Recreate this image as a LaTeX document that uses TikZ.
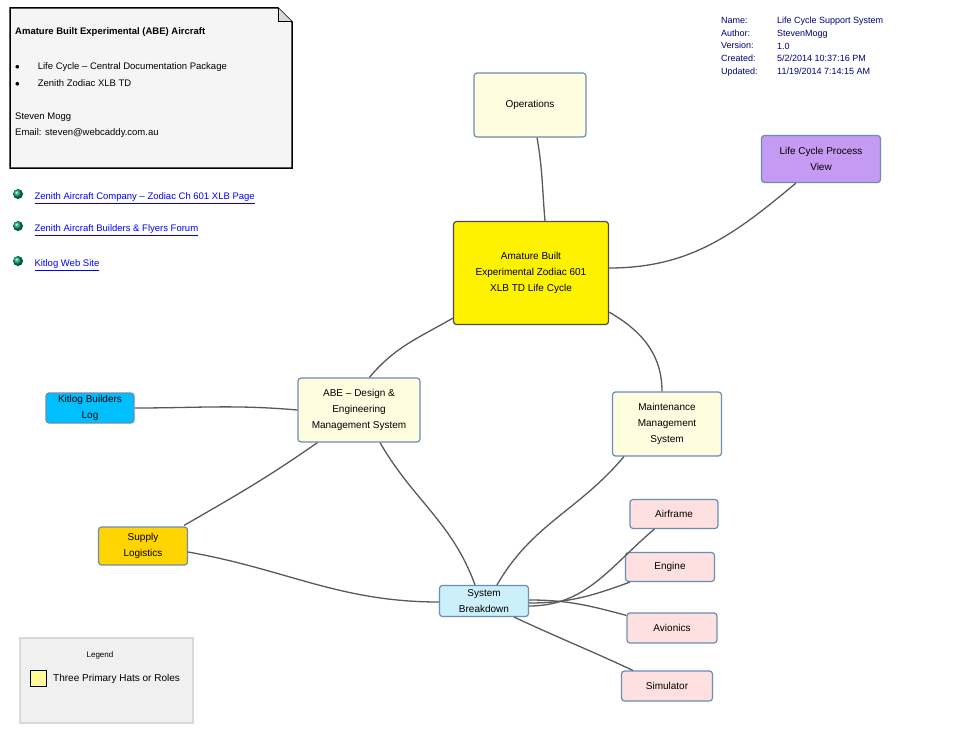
\documentclass[tikz,border=0pt]{standalone}
\usepackage{fontspec}
\setmainfont{Liberation Sans}
\definecolor{bord}{HTML}{6A8CB5}
\definecolor{lcp}{HTML}{C49AF2}
\definecolor{kitc}{HTML}{00BFFF}
\definecolor{supc}{HTML}{FFD400}
\begin{document}
\begin{tikzpicture}[x=1pt,y=-1pt,font=\fontsize{10}{16}\selectfont,
 box/.style={draw=bord,line width=1.2pt,rounded corners=3pt,align=center,inner sep=2pt},
 edge/.style={draw=black!65,line width=1.3pt},
 notet/.style={anchor=west,inner sep=0pt,font=\fontsize{9.5}{12}\selectfont},
 link/.style={text=blue,anchor=west,font=\fontsize{9.5}{10}\selectfont}]
\useasboundingbox (0,0) rectangle (966,749);
% note
\draw[line width=1.5pt,fill=gray!8] (10,8) -- (278,8) -- (292,22) -- (292,168) -- (10,168) -- cycle;
\draw[line width=1pt,fill=gray!30] (278,8) -- (278,22) -- (292,22);
\node[notet] (n1) at (15,32) {\textbf{Amature Built Experimental (ABE) Aircraft}};
\node[notet] (n2) at (15,67) {$\bullet$\hspace{18pt}Life Cycle -- Central Documentation Package};
\node[notet] (n3) at (15,83) {$\bullet$\hspace{18pt}Zenith Zodiac XLB TD};
\node[notet] (n4) at (15,117) {Steven Mogg};
\node[notet] (n5) at (15,133) {Email: steven@webcaddy.com.au};
% links
\foreach \y/\t/\n in {198/{Zenith Aircraft Company -- Zodiac Ch 601 XLB Page}/l1,230/{Zenith Aircraft Builders \& Flyers Forum}/l2,265/{Kitlog Web Site}/l3}{
 \shade[ball color=green!60!blue] (18,\y-4) circle (5);
 \node[link] (\n) at (31,\y) {\underline{\t}};}
% meta
\node[anchor=north west,align=left,inner sep=0pt,text=blue!50!black,font=\fontsize{9}{12.7}\selectfont] (meta) at (721,17)
 {Name:\\Author:\\Version:\\Created:\\Updated:};
\node[anchor=north west,align=left,inner sep=0pt,text=blue!50!black,font=\fontsize{9}{12.7}\selectfont] (meta2) at (777,17)
 {Life Cycle Support System\\StevenMogg\\1.0\\5/2/2014 10:37:16 PM\\11/19/2014 7:14:15 AM};
% nodes
\node[box,fill=yellow!12,minimum width=112pt,minimum height=64pt] (ops) at (530,105) {Operations};
\node[box,fill=lcp,minimum width=119pt,minimum height=47pt] (lcpv) at (821,159) {Life Cycle Process\\View};
\node[box,draw=black!70,fill=yellow,minimum width=155pt,minimum height=103pt] (cen) at (531,273) {Amature Built\\Experimental Zodiac 601\\XLB TD Life Cycle};
\node[box,fill=yellow!12,minimum width=122pt,minimum height=64pt] (abe) at (359,410) {ABE -- Design \&\\Engineering\\Management System};
\node[box,fill=yellow!12,minimum width=109pt,minimum height=64pt] (mms) at (667,424) {Maintenance\\Management\\System};
\node[box,fill=kitc,minimum width=88pt,minimum height=30pt,inner sep=0pt] (kit) at (90,408) {Kitlog Builders\\Log};
\node[box,fill=supc,minimum width=89pt,minimum height=38pt] (sup) at (143,546) {Supply\\Logistics};
\node[box,fill=cyan!20,minimum width=89pt,minimum height=31pt,inner sep=0pt] (sb) at (484,601) {System\\Breakdown};
\node[box,fill=red!12,minimum width=88pt,minimum height=29pt] (air) at (674,514) {Airframe};
\node[box,fill=red!12,minimum width=89pt,minimum height=29pt] (eng) at (670,567) {Engine};
\node[box,fill=red!12,minimum width=90pt,minimum height=30pt] (avi) at (672,628) {Avionics};
\node[box,fill=red!12,minimum width=91pt,minimum height=30pt] (sim) at (667,686) {Simulator};
% legend
\draw[line width=1.5pt,draw=black!15,fill=gray!12] (20,638) rectangle (193,723);
\node[font=\fontsize{8}{9}\selectfont] (legt) at (100,655) {Legend};
\draw[fill=yellow!40,line width=1pt] (30,670) rectangle (46,686);
\node[anchor=west,inner sep=0pt] (legi) at (53,679) {Three Primary Hats or Roles};
% edges
\draw[edge] ([xshift=7pt]ops.south) to[out=-80,in=95] ([xshift=14pt]cen.north);
\draw[edge] ([yshift=5pt]cen.east) to[out=0,in=-140] ([xshift=35pt]lcpv.south west);
\draw[edge] ([yshift=7pt]cen.south west) to[out=-150,in=50] ([xshift=72pt]abe.north west);
\draw[edge] ([yshift=13pt]cen.south east) to[out=-30,in=90] ([xshift=-5pt]mms.north);
\draw[edge] (abe.west) to[out=175,in=0] (kit.east);
\draw[edge] ([xshift=20pt]abe.south west) to[out=-145,in=30] ([xshift=-4pt,yshift=1pt]sup.north east);
\draw[edge] ([xshift=21pt]abe.south) to[out=-60,in=110] ([xshift=-9pt]sb.north);
\draw[edge] ([xshift=12pt]mms.south west) to[out=-130,in=60] ([xshift=13pt]sb.north);
\draw[edge] ([yshift=-6pt]sup.east) to[out=-10,in=180] ([yshift=-1pt]sb.west);
\draw[edge] ([yshift=-5pt]sb.east) to[out=0,in=-140] ([xshift=25pt]air.south west);
\draw[edge] ([yshift=-2pt]sb.east) to[out=0,in=-160] ([xshift=5pt]eng.south west);
\draw[edge] ([yshift=1pt]sb.east) to[out=0,in=165] ([yshift=-3pt]avi.north west);
\draw[edge] ([xshift=-15pt]sb.south east) to[out=-25,in=155] ([xshift=12pt]sim.north west);
\end{tikzpicture}
\end{document}
